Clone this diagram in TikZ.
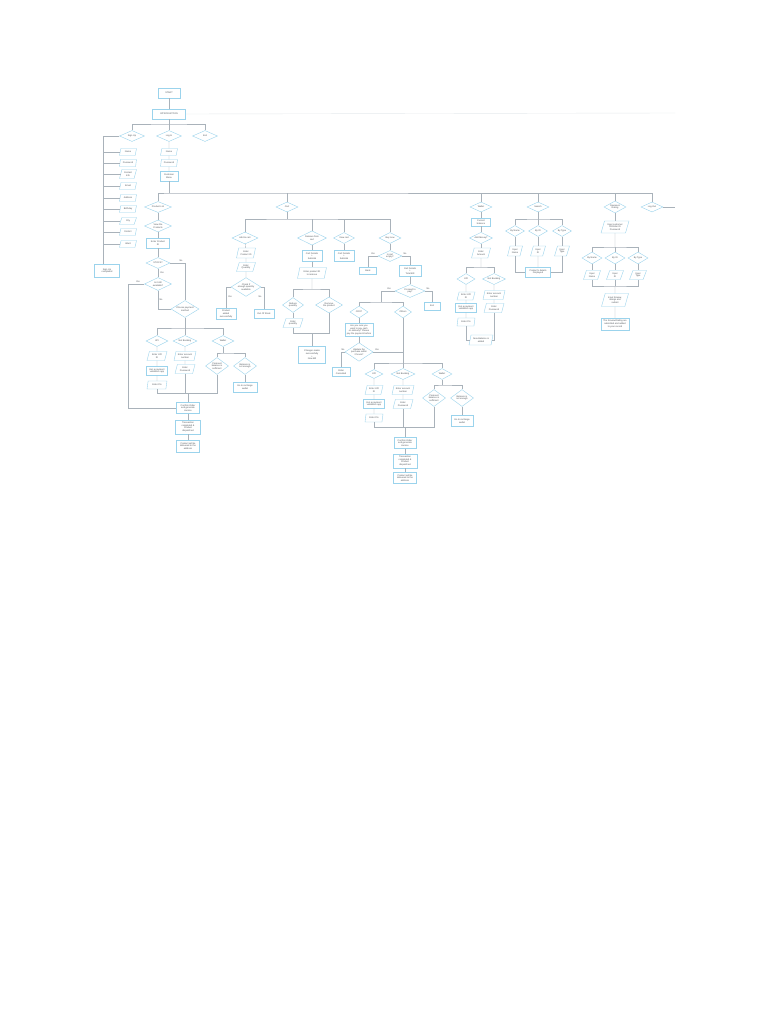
\documentclass[tikz,border=0pt]{standalone}
\usepackage{fontspec}
\setmainfont{Liberation Sans}
\usetikzlibrary{shapes.geometric}
\definecolor{bl}{HTML}{9BD3EC}
\definecolor{lnc}{HTML}{A9B2BA}
\definecolor{tx}{HTML}{4F555B}
\definecolor{fa}{HTML}{E6EAED}
\begin{document}
\begin{tikzpicture}[x=1pt,y=-1pt,
 base/.style={draw=bl, line width=0.4pt, fill=white, inner sep=0pt, align=center, text=tx, font=\fontsize{2.3}{2.7}\selectfont},
 dia/.style={base, diamond, aspect=1.4},
 bx/.style={base, rectangle},
 pa/.style={base, trapezium, trapezium left angle=70, trapezium right angle=110, trapezium stretches=true},
 sz/.style 2 args={minimum width=#1pt, minimum height=#2pt},
 ln/.style={draw=lnc, line width=0.4pt},
 lab/.style={font=\fontsize{2.3}{2.7}\selectfont, text=tx, inner sep=0.3pt}]
\useasboundingbox (0,0) rectangle (768,1024);
\fill[white] (0,0) rectangle (768,1024);

% ---------- top ----------
\node[bx, sz={22}{10}] (start) at (169,93) {START};
\node[bx, sz={33}{10}] (intro) at (169,114) {INTRODUCTION};
\node[dia, sz={25}{11}] (signup) at (132,136) {Sign Up};
\node[dia, sz={25}{11}] (login) at (169,136) {Log In};
\node[dia, sz={25}{11}] (exit) at (205,136) {Exit};
\coordinate (ib) at (169,124);
\draw[ln] (start) -- (intro);
\draw[draw=fa, line width=0.4pt] (intro.east) -- (675,113);
\draw[ln] (intro.south) -- (ib);
\draw[ln] (signup.north) |- (ib) -| (exit.north);
\draw[ln] (ib) -- (login.north);

% sign up
\node[pa, sz={17}{7}] (su1) at (128,152) {Name};
\node[pa, sz={17}{7}] (su2) at (128,163) {Password};
\node[pa, sz={17}{9}] (su3) at (128,174) {Contact\\Info};
\node[pa, sz={17}{7}] (su4) at (128,186) {Email};
\node[pa, sz={17}{7}] (su5) at (128,198) {Address};
\node[pa, sz={17}{7}] (su6) at (128,209) {Birthday};
\node[pa, sz={17}{7}] (su7) at (128,221) {City};
\node[pa, sz={17}{7}] (su8) at (128,232) {District};
\node[pa, sz={17}{7}] (su9) at (128,244) {Ward};
\node[bx, sz={25}{13}] (sudone) at (107,271) {Sign Up\\completed};
\coordinate (sl) at (103,136);
\draw[ln] (signup.west) -- (sl) -- (sl |- sudone.north);
\foreach \n in {su1,su2,su3,su4,su5,su6,su7,su8,su9}{\draw[ln] (sl |- \n.west) -- (\n.west);}

% log in
\node[pa, sz={17}{7}] (li1) at (169,152) {Name};
\node[pa, sz={17}{7}] (li2) at (169,163) {Password};
\node[bx, sz={18}{10}] (cm) at (169,176) {Customer\\Menu};
\draw[ln] (login) -- (li1) -- (li2) -- (cm);

% main bus
\node[dia, sz={27}{11}] (pl) at (158,207) {Product List};
\node[dia, sz={22}{10}] (cart) at (287,207) {Cart};
\node[dia, sz={22}{10}] (wal) at (481,207) {Wallet};
\node[dia, sz={22}{10}] (srch) at (538,207) {Search};
\node[dia, sz={22}{12}] (rev) at (615,207) {Review \&\\Rating};
\node[dia, sz={22}{10}] (lo) at (652,207) {Log Out};
\coordinate (mb) at (169,193);
\draw[ln] (cm.south) -- (mb);
\draw[ln] (pl.north) |- (mb) -| (lo.north);
\foreach \n in {cart,wal,srch,rev}{\draw[ln] (\n.north) -- (\n.north |- mb);}
\coordinate (loe) at (675,207);
\draw[ln] (lo.east) -- (loe);

% ---------- product list ----------
\node[dia, sz={27}{12}] (vp) at (158,226) {View the\\Products};
\node[bx, sz={23}{10}] (epid) at (158,243) {Enter Product\\ID};
\node[dia, sz={24}{11}] (stock) at (158,263) {STOCK?};
\node[dia, sz={27}{13}] (avail) at (158,284) {Is it still\\available?};
\node[dia, sz={28}{17}] (pay) at (185,309) {Choose payment\\method};
\draw[ln] (pl) -- (vp) -- (epid) -- (stock) -- (avail);
\node[lab] at (162,273) {Yes};
\draw[ln] (stock.east) -| (pay.north);
\node[lab] at (181,260.5) {No};
\coordinate (an) at (158,309);
\draw[ln] (avail.south) -- (an) -- (pay.west);
\node[lab] at (161,300) {No};
\coordinate (ay) at (128,284);
\node[lab] at (138,282) {Yes};

\node[dia, sz={22}{11}] (upi1) at (157,341) {UPI};
\node[dia, sz={24}{11}] (nb1) at (185,341) {Net Banking};
\node[dia, sz={22}{11}] (wl1) at (223,341) {Wallet};
\coordinate (pb) at (185,328);
\draw[ln] (pay.south) -- (pb);
\draw[ln] (upi1.north) |- (pb) -| (wl1.north);
\draw[ln] (pb) -- (nb1.north);
\node[pa, sz={20}{9}] (upi1a) at (157,356) {Enter UPI\\ID};
\node[bx, sz={21}{9}] (upi1b) at (157,371) {Get a payment\\validation app};
\node[pa, sz={20}{8}] (upi1c) at (157,385) {Enter Pin};
\node[pa, sz={22}{9}] (nb1a) at (185,356) {Enter account\\number};
\node[pa, sz={20}{9}] (nb1b) at (185,369) {Enter\\Password};
\node[dia, sz={23}{17}] (wl1a) at (217,366) {If amount\\balance is\\sufficient};
\node[dia, sz={23}{17}] (wl1b) at (245,366) {Balance is\\not enough};
\node[bx, sz={24}{10}] (wl1c) at (245,387) {Go to recharge\\wallet};
\draw[ln] (upi1) -- (upi1a) -- (upi1b) -- (upi1c);
\draw[ln] (nb1) -- (nb1a) -- (nb1b);
\coordinate (wb1) at (223,353);
\draw[ln] (wl1.south) -- (wb1);
\draw[ln] (wl1a.north) |- (wb1) -| (wl1b.north);
\draw[ln] (wl1b) -- (wl1c);
\node[bx, sz={23}{11}] (conf1) at (188,408) {Confirm Order\\and generate\\invoice};
\node[bx, sz={25}{14}, line width=0.8pt] (trans1) at (188,427) {Transaction\\completed \&\\Product\\dispatched};
\node[bx, sz={23}{12}] (deliv1) at (188,446) {Product will be\\delivered to the\\address};
\coordinate (mg1) at (188,393);
\draw[ln] (upi1c.south) |- (mg1);
\draw[ln] (wl1a.south) |- (mg1);
\draw[ln] (nb1b.south) -- (nb1b.south |- mg1);
\draw[ln] (mg1) -- (conf1.north);
\draw[ln] (avail.west) -- (ay) |- (conf1.west);
\draw[ln] (conf1) -- (trans1) -- (deliv1);

% ---------- cart ----------
\coordinate (cb) at (287,219);
\node[dia, sz={26}{12}] (atc) at (245,238) {Add to cart};
\node[dia, sz={29}{13}] (rfc) at (312,238) {Remove from\\cart};
\node[dia, sz={21}{11}] (vc) at (344,238) {View cart};
\node[dia, sz={22}{11}] (bn) at (390,238) {Buy now};
\draw[ln] (cart.south) -- (cb);
\draw[ln] (atc.north) |- (cb) -| (bn.north);
\draw[ln] (rfc.north) -- (rfc.north |- cb);
\draw[ln] (vc.north) -- (vc.north |- cb);

% add to cart
\node[pa, sz={19}{10}] (atc1) at (246,253) {Enter\\Product ID};
\node[pa, sz={19}{9}] (atc2) at (246,267) {Enter\\Quantity};
\node[dia, sz={30}{15}] (atc3) at (246,287) {Check if\\enough quantity\\available};
\node[bx, sz={20}{11}] (atcy) at (226,314) {Product\\added\\successfully};
\node[bx, sz={20}{9}] (atcn) at (264,314) {Out Of Stock};
\draw[ln] (atc) -- (atc1) -- (atc2) -- (atc3);
\draw[ln] (atc3.west) -| (atcy.north);
\draw[ln] (atc3.east) -| (atcn.north);
\node[lab] at (230,297) {Yes};
\node[lab] at (260,297) {No};

% remove from cart
\node[bx, sz={20}{11}] (rfc1) at (312,256) {Cart Details\\+\\Subtotal};
\node[pa, sz={29}{11}] (rfc2) at (312,273) {Enter product ID\\to remove};
\node[dia, sz={21}{15}] (rq) at (293,305) {Reduce\\quantity};
\node[dia, sz={27}{16}] (rp) at (329,305) {Remove\\the product};
\node[pa, sz={20}{9}] (rq1) at (293,323) {Enter\\quantity};
\node[bx, sz={27}{17}] (cms) at (312,355) {Changes made\\successfully\\+\\New Bill};
\coordinate (rb) at (312,289);
\coordinate (rm) at (312,333);
\draw[ln] (rfc) -- (rfc1) -- (rfc2);
\draw[ln] (rfc2.south) -- (rb);
\draw[ln] (rq.north) |- (rb) -| (rp.north);
\draw[ln] (rq) -- (rq1);
\draw[ln] (rq1.south) |- (rm);
\draw[ln] (rp.south) |- (rm);
\draw[ln] (rm) -- (cms.north);

% view cart
\node[bx, sz={20}{11}] (vc1) at (344,256) {Cart Details\\+\\Subtotal};
\draw[ln] (vc) -- (vc1);

% buy now
\node[dia, sz={24}{11}] (ce) at (390,256) {Is cart\\empty?};
\node[bx, sz={17}{7}] (back) at (368,271) {Back};
\node[bx, sz={22}{11}] (ctb) at (410,271) {Cart Details\\+\\Total Bill};
\node[dia, sz={30}{13}] (ptp) at (410,291) {Proceed to\\pay?};
\node[bx, sz={16}{8}] (exitb) at (432,306) {Exit};
\draw[ln] (bn) -- (ce);
\draw[ln] (ce.west) -| (back.north);
\draw[ln] (ce.east) -| (ctb.north);
\node[lab] at (373,254) {Yes};
\node[lab] at (405,254) {No};
\draw[ln] (ctb) -- (ptp);
\draw[ln] (ptp.east) -| (exitb.north);
\node[lab] at (428,288.5) {No};
\node[lab] at (389,289) {Yes};
\node[dia, sz={18}{12}] (cod) at (359,312) {COD?};
\node[dia, sz={17}{12}] (oth) at (403,312) {Others};
\coordinate (py) at (381,291);
\coordinate (pyb) at (381,302);
\draw[ln] (ptp.west) -- (py) -- (pyb);
\draw[ln] (cod.north) |- (pyb) -| (oth.north);
\node[bx, sz={28}{13}] (codb) at (359,330) {Are you sure you\\want to pay cash\\on delivery? Please\\pay the payment before};
\node[dia, sz={28}{15}] (val) at (359,352) {Validate the\\purchase within\\2 hours?};
\node[bx, sz={18}{9}] (oc) at (341,372) {Order\\Cancelled};
\draw[ln] (cod) -- (codb) -- (val);
\draw[ln] (val.west) -| (oc.north);
\node[lab] at (343,350) {No};
\coordinate (vy) at (403,352);
\draw[ln] (val.east) -- (vy);
\node[lab] at (377,350) {Yes};

\node[dia, sz={18}{9}] (upi2) at (374,374) {UPI};
\node[dia, sz={24}{11}] (nb2) at (403,374) {Net Banking};
\node[dia, sz={20}{11}] (wl2) at (442,374) {Wallet};
\coordinate (ob) at (403,363);
\draw[ln] (oth.south) -- (ob);
\draw[ln] (upi2.north) |- (ob) -| (wl2.north);
\draw[ln] (ob) -- (nb2.north);
\node[pa, sz={18}{9}] (upi2a) at (374,390) {Enter UPI\\ID};
\node[bx, sz={21}{9}] (upi2b) at (374,404) {Get a payment\\validation app};
\node[pa, sz={18}{8}] (upi2c) at (374,418) {Enter Pin};
\node[pa, sz={22}{9}] (nb2a) at (403,390) {Enter account\\number};
\node[pa, sz={20}{9}] (nb2b) at (403,404) {Enter\\Password};
\node[dia, sz={23}{17}] (wl2a) at (434,398) {If amount\\balance is\\sufficient};
\node[dia, sz={23}{17}] (wl2b) at (462,398) {Balance is\\not enough};
\node[bx, sz={22}{11}] (wl2c) at (462,421) {Go to recharge\\wallet};
\draw[ln] (upi2) -- (upi2a) -- (upi2b) -- (upi2c);
\draw[ln] (nb2) -- (nb2a) -- (nb2b);
\coordinate (wb2) at (442,385);
\draw[ln] (wl2.south) -- (wb2);
\draw[ln] (wl2a.north) |- (wb2) -| (wl2b.north);
\draw[ln] (wl2b) -- (wl2c);
\coordinate (mg2) at (405,427);
\draw[ln] (upi2c.south) |- (mg2);
\draw[ln] (wl2a.south) |- (mg2);
\draw[ln] (nb2b.south) -- (nb2b.south |- mg2);
\node[bx, sz={22}{11}] (conf2) at (405,443) {Confirm Order\\and generate\\invoice};
\node[bx, sz={24}{14}, line width=0.8pt] (trans2) at (405,461) {Transaction\\completed \&\\Product\\dispatched};
\node[bx, sz={23}{11}] (deliv2) at (405,478) {Product will be\\delivered to the\\address};
\draw[ln] (mg2) -- (conf2.north);
\draw[ln] (conf2) -- (trans2) -- (deliv2);

% ---------- wallet ----------
\node[bx, sz={19}{8}] (cbal) at (481,222) {Current\\balance};
\node[dia, sz={23}{10}] (am) at (481,238) {Add Money?};
\node[pa, sz={19}{10}] (ea) at (481,253) {Enter\\Amount};
\draw[ln] (wal) -- (cbal) -- (am) -- (ea);
\coordinate (eb) at (481,267);
\draw[ln] (ea.south) -- (eb);
\node[dia, sz={18}{11}] (upi3) at (466,279) {UPI};
\node[dia, sz={23}{11}] (nb3) at (494,279) {Net Banking};
\draw[ln] (upi3.north) |- (eb) -| (nb3.north);
\node[pa, sz={18}{8}] (upi3a) at (466,296) {Enter UPI\\ID};
\node[bx, sz={21}{9}] (upi3b) at (466,308) {Get a payment\\validation app};
\node[pa, sz={18}{8}] (upi3c) at (466,322) {Enter Pin};
\node[pa, sz={22}{9}] (nb3a) at (494,295) {Enter account\\number};
\node[pa, sz={20}{9}] (nb3b) at (494,308) {Enter\\Password};
\node[pa, sz={24}{10}] (nba) at (481,340) {New Balance is\\added};
\draw[ln] (upi3) -- (upi3a) -- (upi3b) -- (upi3c);
\draw[ln] (nb3) -- (nb3a) -- (nb3b);
\draw[ln] (upi3c.south) |- (nba.west);
\draw[ln] (nb3b.south) |- (nba.east);

% ---------- search ----------
\coordinate (sb) at (538,219);
\node[dia, sz={19}{11}] (s1) at (515,231) {By Name};
\node[dia, sz={19}{11}] (s2) at (538,231) {By ID};
\node[dia, sz={19}{11}] (s3) at (562,231) {By Type};
\draw[ln] (srch.south) -- (sb);
\draw[ln] (s1.north) |- (sb) -| (s3.north);
\draw[ln] (sb) -- (s2.north);
\node[pa, sz={15}{10}] (s1a) at (515,251) {Input\\Name};
\node[pa, sz={15}{10}] (s2a) at (538,251) {Input\\ID};
\node[pa, sz={15}{10}] (s3a) at (562,251) {Input\\Type};
\node[bx, sz={25}{10}] (pdd) at (538,272) {Product's details\\Displayed};
\draw[ln] (s1) -- (s1a); \draw[ln] (s2) -- (s2a); \draw[ln] (s3) -- (s3a);
\draw[ln] (s1a.south) |- (pdd.west);
\draw[ln] (s2a) -- (pdd);
\draw[ln] (s3a.south) |- (pdd.east);

% ---------- review ----------
\node[pa, sz={28}{12}] (rv1) at (615,227) {Input customer\\ID/Order ID\\Password};
\draw[ln] (rev) -- (rv1);
\coordinate (rvb) at (615,247);
\draw[ln] (rv1.south) -- (rvb);
\node[dia, sz={20}{12}] (r1) at (592,258) {By Name};
\node[dia, sz={20}{12}] (r2) at (615,258) {By ID};
\node[dia, sz={20}{12}] (r3) at (638,258) {By Type};
\draw[ln] (r1.north) |- (rvb) -| (r3.north);
\draw[ln] (rvb) -- (r2.north);
\node[pa, sz={17}{9}] (r1a) at (592,275) {Input\\Name};
\node[pa, sz={17}{9}] (r2a) at (615,275) {Input\\ID};
\node[pa, sz={17}{9}] (r3a) at (638,275) {Input\\Type};
\draw[ln] (r1) -- (r1a); \draw[ln] (r2) -- (r2a); \draw[ln] (r3) -- (r3a);
\coordinate (rvm) at (615,286);
\draw[ln] (r1a.south) |- (rvm) -| (r3a.south);
\draw[ln] (r2a) -- (rvm);
\node[pa, sz={27}{13}] (rv2) at (615,300) {Input Review,\\ratings and\\submit};
\node[bx, sz={28}{12}] (rv3) at (615,324) {The Review/Rating are\\submitted and added\\to your record};
\draw[ln] (rvm) -- (rv2) -- (rv3);
\end{tikzpicture}
\end{document}
